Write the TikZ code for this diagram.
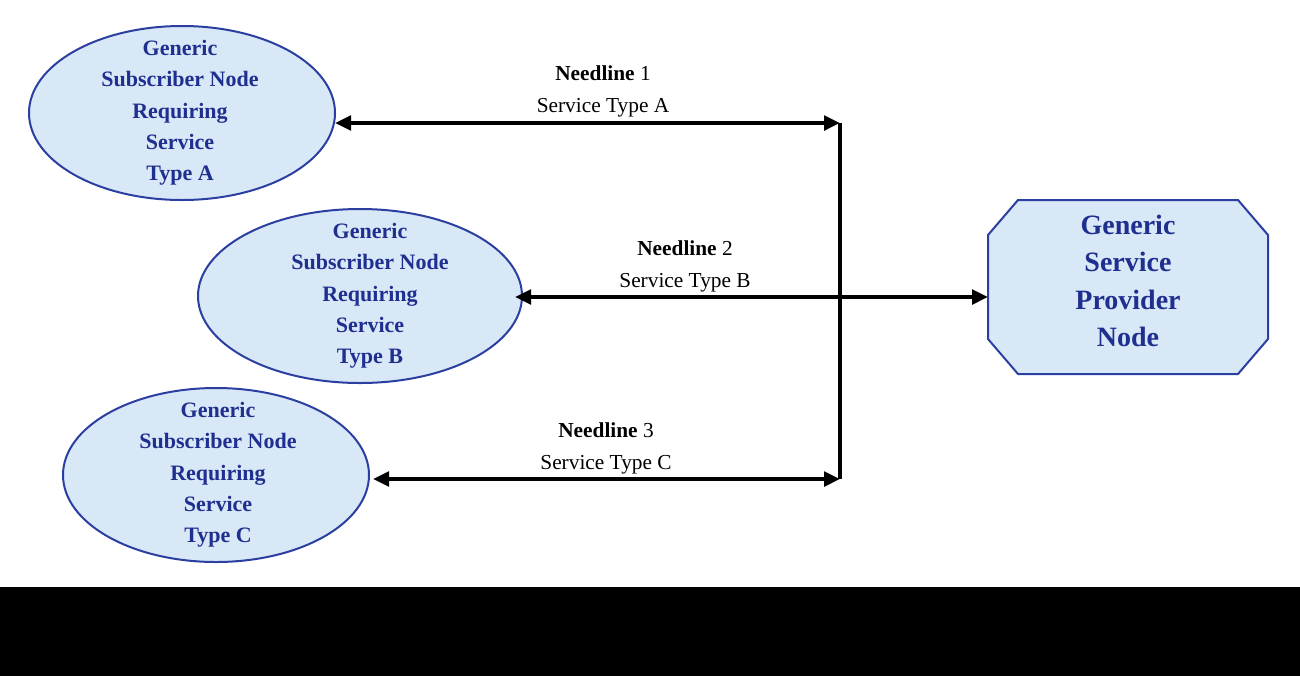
\documentclass[tikz,border=0pt]{standalone}
\usepackage{fontspec}
\setmainfont{Liberation Serif}
\usetikzlibrary{arrows.meta}
\definecolor{fillb}{HTML}{D9E8F7}
\definecolor{edgeb}{HTML}{2B3FA0}
\definecolor{txtb}{HTML}{1F2F8F}
\begin{document}
\begin{tikzpicture}[x=0.75pt,y=-0.75pt,
  subtext/.style={font=\fontsize{16.5}{23.5}\selectfont\bfseries,text=txtb,align=center},
  lbl/.style={font=\fontsize{16}{24}\selectfont,align=center},
  link/.style={line width=2.6pt,{Triangle[length=12pt,width=11pt]}-{Triangle[length=12pt,width=11pt]}},
  bar/.style={line width=2.6pt}]
\useasboundingbox (0,0) rectangle (1300,676);
\fill[black] (0,587) rectangle (1300,676);
\draw[draw=edgeb,fill=fillb,line width=1.5pt] (182,113) ellipse [x radius=153,y radius=87];
\draw[draw=edgeb,fill=fillb,line width=1.5pt] (360,296) ellipse [x radius=162,y radius=87];
\draw[draw=edgeb,fill=fillb,line width=1.5pt] (216,475) ellipse [x radius=153,y radius=87];
\node[subtext] (a) at (180,113) {Generic\\Subscriber Node\\Requiring\\Service\\Type A};
\node[subtext] (b) at (370,296) {Generic\\Subscriber Node\\Requiring\\Service\\Type B};
\node[subtext] (c) at (218,475) {Generic\\Subscriber Node\\Requiring\\Service\\Type C};
\draw[draw=edgeb,fill=fillb,line width=1.5pt] (1018,200)--(1238,200)--(1268,235)--(1268,339)--(1238,374)--(1018,374)--(988,339)--(988,235)--cycle;
\node[font=\fontsize{21}{28}\selectfont\bfseries,text=txtb,align=center] (p) at (1128,281) {Generic\\Service\\Provider\\Node};
\coordinate (aR) at (335,123);
\coordinate (bR) at (515,297);
\coordinate (cR) at (373,479);
\coordinate (pL) at (988,297);
\coordinate (jA) at (840,123);
\coordinate (jC) at (840,479);
\draw[bar] (jA) -- (jC);
\draw[link] (aR) -- (jA);
\draw[link] (cR) -- (jC);
\draw[link] (bR) -- (pL);
\node[lbl] (la) at (603,91) {\textbf{Needline} 1\\Service Type A};
\node[lbl] (lb) at (685,266) {\textbf{Needline} 2\\Service Type B};
\node[lbl] (lc) at (606,448) {\textbf{Needline} 3\\Service Type C};
\end{tikzpicture}
\end{document}
